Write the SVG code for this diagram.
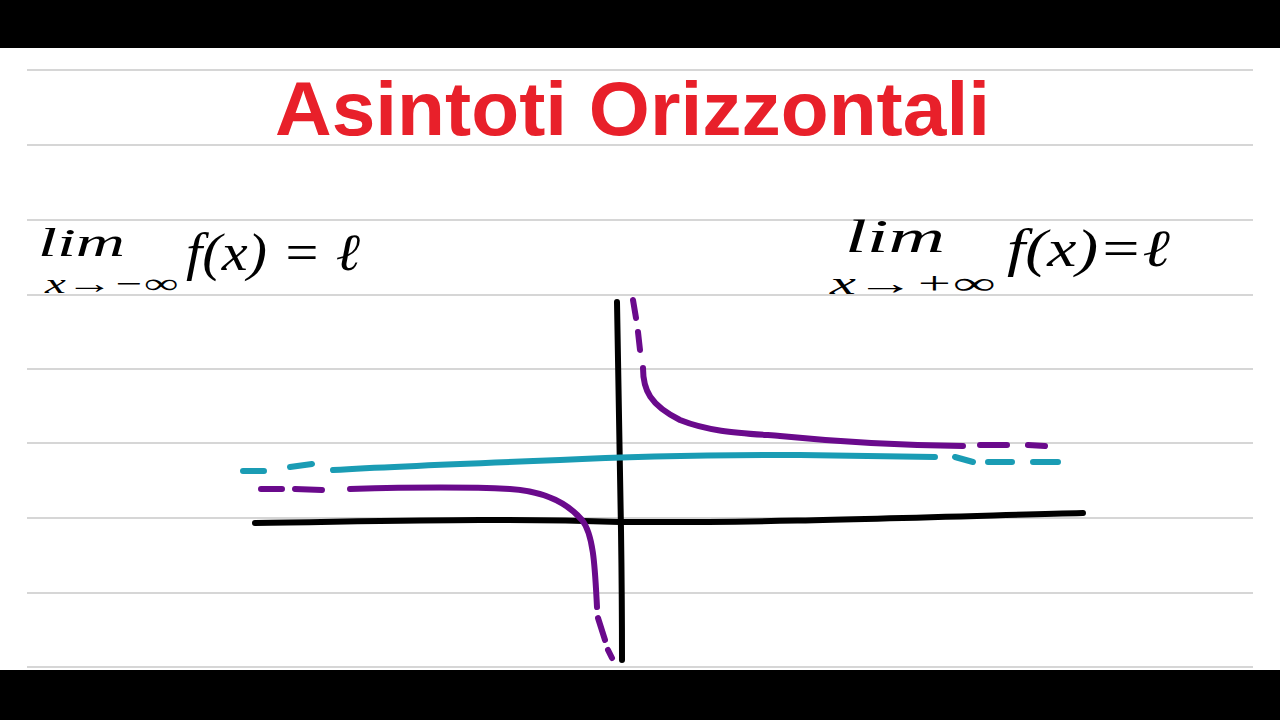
<svg xmlns="http://www.w3.org/2000/svg" width="1280" height="720" viewBox="0 0 1280 720">
<style>
.rule{stroke:#c8c8c8;stroke-width:1.5}
.ink{fill:none;stroke-linecap:round;stroke-linejoin:round;stroke-width:6}
.axis{stroke:#000}
.cy{stroke:#1a9cb4}
.pu{stroke:#6a0a8c}
.hand{font-family:"Liberation Serif","DejaVu Serif",serif;font-style:italic;fill:#000}
</style>
<rect x="0" y="0" width="1280" height="720" fill="#fff"/>
<rect x="0" y="0" width="1280" height="48" fill="#000"/>
<rect x="0" y="670" width="1280" height="50" fill="#000"/>
<g id="rules">
<line class="rule" x1="27" y1="70" x2="1253" y2="70"/>
<line class="rule" x1="27" y1="145" x2="1253" y2="145"/>
<line class="rule" x1="27" y1="220" x2="1253" y2="220"/>
<line class="rule" x1="27" y1="295" x2="1253" y2="295"/>
<line class="rule" x1="27" y1="369" x2="1253" y2="369"/>
<line class="rule" x1="27" y1="443" x2="1253" y2="443"/>
<line class="rule" x1="27" y1="518" x2="1253" y2="518"/>
<line class="rule" x1="27" y1="593" x2="1253" y2="593"/>
<line class="rule" x1="27" y1="667" x2="1253" y2="667"/>
</g>
<text id="title" x="275" y="135" font-family="Liberation Sans, Arial, sans-serif" font-weight="bold" font-size="76" fill="#e8202a" textLength="715" lengthAdjust="spacingAndGlyphs">Asintoti Orizzontali</text>
<g id="formula-left">
<text class="hand" x="38" y="256" font-size="40" textLength="87" lengthAdjust="spacingAndGlyphs">lim</text>
<text class="hand" x="45" y="293" font-size="28" textLength="133" lengthAdjust="spacingAndGlyphs">x→−∞</text>
<text class="hand" x="186" y="270" font-size="52" textLength="174" lengthAdjust="spacingAndGlyphs">f(x) = ℓ</text>
</g>
<g id="formula-right">
<text class="hand" x="845" y="252" font-size="46" textLength="100" lengthAdjust="spacingAndGlyphs">lim</text>
<text class="hand" x="830" y="294" font-size="32" textLength="165" lengthAdjust="spacingAndGlyphs">x→+∞</text>
<text class="hand" x="1007" y="266" font-size="52" textLength="163" lengthAdjust="spacingAndGlyphs">f(x)=ℓ</text>
</g>
<g id="axes">
<path class="ink axis" d="M255,523 C400,521 500,518 620,522 C760,523 900,518 1083,513"/>
<path class="ink axis" d="M617,302 C619,400 620,480 621,530 C622,600 622,630 622,660"/>
</g>
<g id="cyan-curve">
<path class="ink cy" d="M243,471 L264,471 M290,467 L312,464 M333,470 C400,466 480,463 560,460 C620,457 700,455 800,455 C870,456 910,457 935,457 M955,457 L973,462 M988,462 L1012,462 M1033,462 L1058,462"/>
</g>
<g id="purple-curve">
<path class="ink pu" d="M261,489 L282,489 M295,489 L322,490 M350,489 C420,487 470,487 510,489 C540,491 565,500 582,520 C594,535 595,570 597,607 M598,618 L605,640 M608,650 L612,658"/>
<path class="ink pu" d="M633,300 L636,318 M638,332 L640,350 M643,368 C643,390 650,405 680,420 C710,432 740,433 780,436 C830,441 880,445 963,446 M980,445 L1007,445 M1028,445 L1045,446"/>
</g>
</svg>
